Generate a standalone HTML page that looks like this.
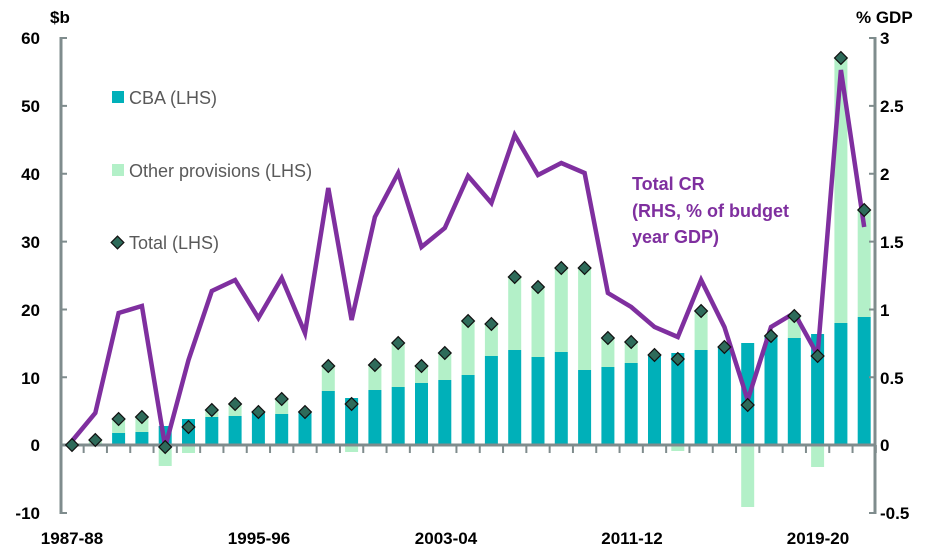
<!DOCTYPE html>
<html><head><meta charset="utf-8"><style>
body{margin:0;background:#fff}
svg{display:block;font-family:"Liberation Sans",sans-serif}
.t{font-size:17px;font-weight:bold;fill:#000}
.l{font-size:18px;fill:#595959}
</style></head><body>
<svg id="s" width="936" height="557" viewBox="0 0 936 557">
<g id="g"></g>
<text class="t" x="50" y="23">$b</text>
<text class="t" x="856" y="23">% GDP</text>
<text class="t" x="40" y="44" text-anchor="end">60</text>
<text class="t" x="40" y="112" text-anchor="end">50</text>
<text class="t" x="40" y="180" text-anchor="end">40</text>
<text class="t" x="40" y="248" text-anchor="end">30</text>
<text class="t" x="40" y="316" text-anchor="end">20</text>
<text class="t" x="40" y="384" text-anchor="end">10</text>
<text class="t" x="40" y="451" text-anchor="end">0</text>
<text class="t" x="40" y="519" text-anchor="end">-10</text>
<text class="t" x="880" y="44">3</text>
<text class="t" x="880" y="112">2.5</text>
<text class="t" x="880" y="180">2</text>
<text class="t" x="880" y="248">1.5</text>
<text class="t" x="880" y="316">1</text>
<text class="t" x="880" y="384">0.5</text>
<text class="t" x="880" y="451">0</text>
<text class="t" x="880" y="519">-0.5</text>
<text class="t" x="72" y="544" text-anchor="middle">1987-88</text>
<text class="t" x="259" y="544" text-anchor="middle">1995-96</text>
<text class="t" x="446" y="544" text-anchor="middle">2003-04</text>
<text class="t" x="632" y="544" text-anchor="middle">2011-12</text>
<text class="t" x="818" y="544" text-anchor="middle">2019-20</text>
<rect x="112" y="91" width="12" height="12" fill="#00b0b9"/>
<text class="l" x="129" y="104">CBA (LHS)</text>
<rect x="112" y="164" width="12" height="12" fill="#b3f0c8"/>
<text class="l" x="129" y="177">Other provisions (LHS)</text>
<rect x="113" y="238" width="9" height="9" fill="#2e6b5a" stroke="#111" stroke-width="1.2" transform="rotate(45 117.5 242.5)"/>
<text class="l" x="129" y="249">Total (LHS)</text>
<text x="632" y="190" font-size="18" font-weight="bold" fill="#7f2f9f">Total CR</text>
<text x="632" y="217" font-size="18" font-weight="bold" fill="#7f2f9f">(RHS, % of budget</text>
<text x="632" y="243" font-size="18" font-weight="bold" fill="#7f2f9f">year GDP)</text>
</svg>
<script>
var cba=[445,445,433,432,426,419,417,416,412,414,412,391,398,390,387,383,380,375,356,350,357,352,370,367,363,356,353,350,347,343,337,338,334,323,317];
var tot=[445,440,419,417,447,427,410,404,412,399,412,366,404,365,343,366,353,321,324,277,287,268,268,338,342,355,359,311,347,405,336,316,356,58,210];
var neg={4:466,5:453,12:452,26:451,29:507,32:467};
var line=[441,413,313,306,447,360,291,280,318,278,333,188,320,217,173,247,228,176,203,135,175,163,173,293,307,327,337,280,327,400,327,313,355,70,227];
var h='';
function X(i){return 72+23.3*i}
for(var i=0;i<35;i++){var x=X(i)-6.5;
 if(tot[i]<cba[i]) h+='<rect x="'+x+'" y="'+tot[i]+'" width="13" height="'+(cba[i]-tot[i])+'" fill="#b3f0c8"/>';
 if(cba[i]<445) h+='<rect x="'+x+'" y="'+cba[i]+'" width="13" height="'+(445-cba[i])+'" fill="#00b0b9"/>';
 if(neg[i]) h+='<rect x="'+x+'" y="445" width="13" height="'+(neg[i]-445)+'" fill="#b3f0c8"/>';
}
for(var k=0;k<8;k++){var y=38+67.86*k;h+='<path d="M61 '+y+'H67M875 '+y+'H869" stroke="#7f8c8d" stroke-width="2"/>';}
h+='<path d="M61 37V514M875 37V514M61 445H875" stroke="#7f8c8d" stroke-width="3" fill="none"/>';
for(var i=0;i<35;i++){var x=X(i)+11.65;h+='<path d="M'+x+' 445V453" stroke="#7f8c8d" stroke-width="2"/>';}
var p='';for(var i=0;i<35;i++)p+=(i?'L':'M')+X(i)+' '+line[i];
h+='<path d="'+p+'" stroke="#7f2f9f" stroke-width="4.5" fill="none"/>';
for(var i=0;i<35;i++){var x=X(i),y=tot[i];h+='<rect x="'+(x-4.5)+'" y="'+(y-4.5)+'" width="9" height="9" fill="#2e6b5a" stroke="#111" stroke-width="1.2" transform="rotate(45 '+x+' '+y+')"/>';}
document.getElementById('g').innerHTML=h;
</script>
</body></html>
